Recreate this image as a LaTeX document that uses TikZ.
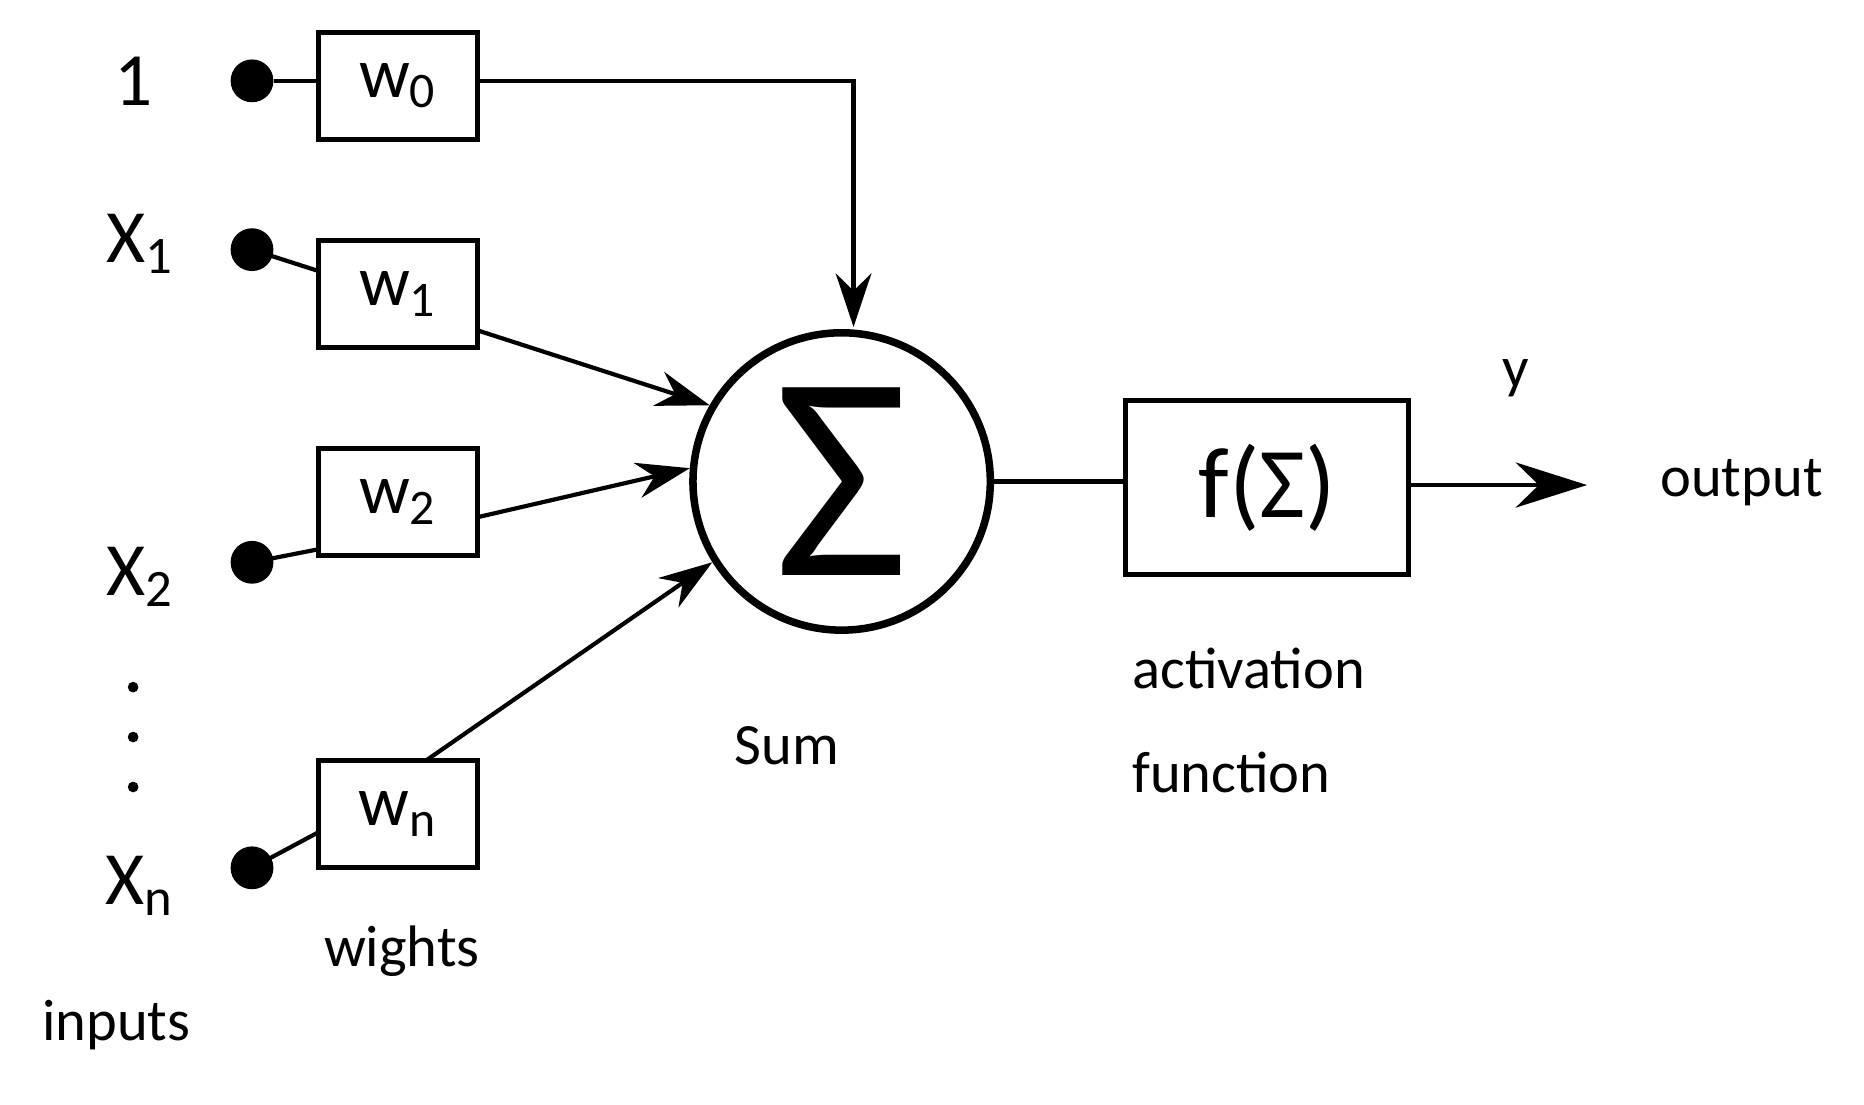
\documentclass[tikz,border=0pt]{standalone}
\usepackage{fontspec}
\setmainfont{Carlito}
\usetikzlibrary{arrows.meta}
\begin{document}
\begin{tikzpicture}[x=0.01cm,y=-0.01cm,
  wbox/.style={draw,line width=1.2pt,minimum width=1.34cm,minimum height=0.9cm,inner sep=0pt,font=\fontsize{17}{20}\selectfont},
  dot/.style={circle,fill,inner sep=0pt,minimum size=0.36cm},
  lbl/.style={font=\fontsize{18}{22}\selectfont},
  txt/.style={font=\fontsize{14}{17}\selectfont},
  arr/.style={line width=1pt,-{Stealth[length=0.45cm,width=0.3cm]}}]
\useasboundingbox (0,0) rectangle (1568,929);
% inputs
\node[lbl] (l1) at (112,68) {1};
\node[lbl] (lx1) at (118,205) {X\textsubscript{1}};
\node[lbl] (lx2) at (118,485) {X\textsubscript{2}};
\node[lbl] (lxn) at (118,745) {X\textsubscript{n}};
\foreach \y/\n in {578/a,620/b,662/c} \node[circle,fill,inner sep=0pt,minimum size=0.09cm] (v\n) at (112,\y) {};
\node[dot] (d0) at (212,68) {};
\node[dot] (d1) at (212,210) {};
\node[dot] (d2) at (212,473) {};
\node[dot] (dn) at (212,730) {};
% weights
\node[wbox] (w0) at (335,72) {w\textsubscript{0}};
\node[wbox] (w1) at (335,247) {w\textsubscript{1}};
\node[wbox] (w2) at (335,422) {w\textsubscript{2}};
\node[wbox] (wn) at (335,685) {w\textsubscript{n}};
\coordinate (w1c) at (268,228);
\coordinate (w2c) at (268,462);
\coordinate (wnc) at (268,700);
\draw[line width=1pt] (d0) -- (w0.west|-d0);
\draw[line width=1pt] (d1.center) -- (w1c);
\draw[line width=1pt] (d2.center) -- (w2c);
\draw[line width=1pt] (dn.center) -- (wnc);
% sum
\node[draw,circle,line width=1.8pt,minimum size=2.5cm,inner sep=0pt,font=\fontsize{70}{72}\selectfont] (s) at (708,405) {Σ};
\coordinate (w0r) at (402,68);
\coordinate (w1r) at (402,278);
\coordinate (w2r) at (402,435);
\coordinate (wnt) at (358,640);
\coordinate (stop) at (718,275);
\draw[arr] (w0r) -| (stop);
\draw[arr] (w1r) -- (s.150);
\draw[arr] (w2r) -- (s.175);
\draw[arr] (wnt) -- (s.212);
% activation
\node[draw,line width=1.2pt,minimum width=2.38cm,minimum height=1.46cm,font=\fontsize{24}{28}\selectfont] (f) at (1066,410) {f(Σ)};
\draw[line width=1pt] (s.east) -- (f.west|-s.east);
\coordinate (out) at (1335,408);
\draw[line width=1pt,-{Stealth[length=0.6cm,width=0.38cm]}] (f.east|-out) -- (out);
\node[txt] (y) at (1275,318) {y};
\node[txt] (o) at (1465,406) {output};
\node[txt] (sum) at (662,627) {Sum};
\node[txt,anchor=west,align=left] (act) at (940,606) {activation\\[8pt]function};
\node[txt] (wl) at (338,800) {wights};
\node[txt] (in) at (98,862) {inputs};
\end{tikzpicture}
\end{document}
